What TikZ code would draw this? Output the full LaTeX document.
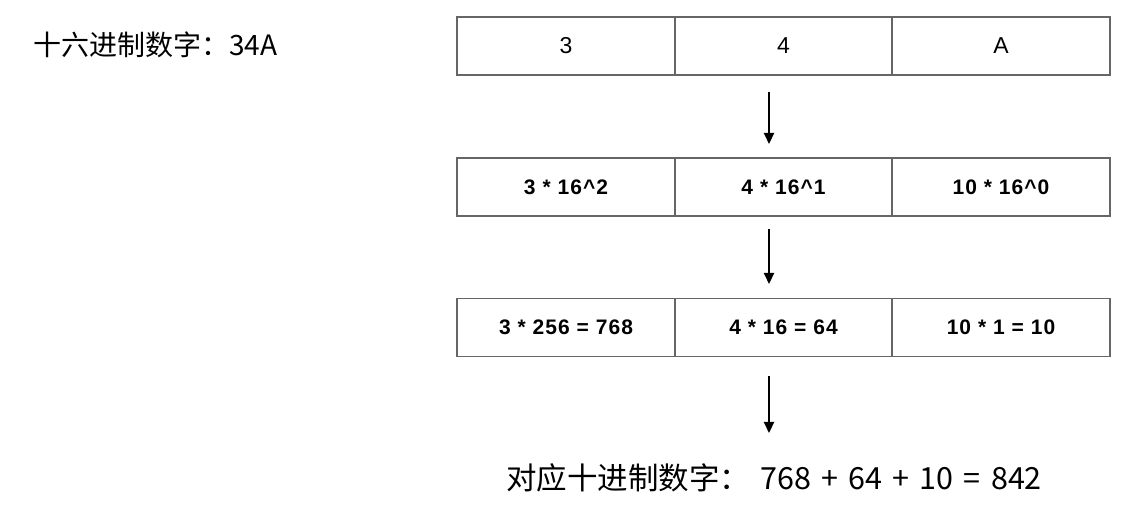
\documentclass[tikz,border=0pt]{standalone}
\usepackage{fontspec}
\setmainfont{Liberation Sans}
\newfontfamily\spacedsans[LetterSpace=5]{Liberation Sans}
\newfontfamily\cjk{Noto Sans CJK SC}
\newfontfamily\cjkwide[WordSpace=1.5]{Noto Sans CJK SC}
\usetikzlibrary{arrows.meta}
\begin{document}
\begin{tikzpicture}[x=1pt,y=-1pt,
  cell/.style={draw=black!60,line width=1.6pt,minimum width=217.7pt,minimum height=58pt,inner sep=0pt,font=\fontsize{23}{25}\selectfont},
  bcell/.style={cell,font=\spacedsans\bfseries\fontsize{21}{24}\selectfont},
  flow/.style={line width=2.2pt,-{Triangle[length=11pt,width=10pt]}},
  cjktext/.style={inner sep=0pt,font=\cjk\fontsize{28}{32}\selectfont}]
\useasboundingbox (0,0) rectangle (1130,518);
% row 1
\node[cell] (a1) at (566,46) {3};
\node[cell] (a2) at (783.5,46) {4};
\node[cell] (a3) at (1001,46) {A};
% row 2
\node[bcell] (b1) at (566,187) {3 * 16\textasciicircum 2};
\node[bcell] (b2) at (783.5,187) {4 * 16\textasciicircum 1};
\node[bcell] (b3) at (1001,187) {10 * 16\textasciicircum 0};
% row 3
\node[bcell] (c1) at (566,327.5) {3 * 256 = 768};
\node[bcell] (c2) at (783.5,327.5) {4 * 16 = 64};
\node[bcell] (c3) at (1001,327.5) {10 * 1 = 10};
% texts
\node[cjktext,anchor=west] (title) at (33,45) {十六进制数字：34A};
\node[cjktext,font=\cjkwide\fontsize{30.5}{34}\selectfont] (result) at (774,478) {对应十进制数字： 768 + 64 + 10 = 842};
% arrows
\coordinate (s1) at (769,92);
\coordinate (e1) at (769,144);
\coordinate (s2) at (769,229);
\coordinate (e2) at (769,284);
\coordinate (s3) at (769,376);
\coordinate (e3) at (769,433);
\draw[flow] (s1) -- (e1);
\draw[flow] (s2) -- (e2);
\draw[flow] (s3) -- (e3);
\end{tikzpicture}
\end{document}
